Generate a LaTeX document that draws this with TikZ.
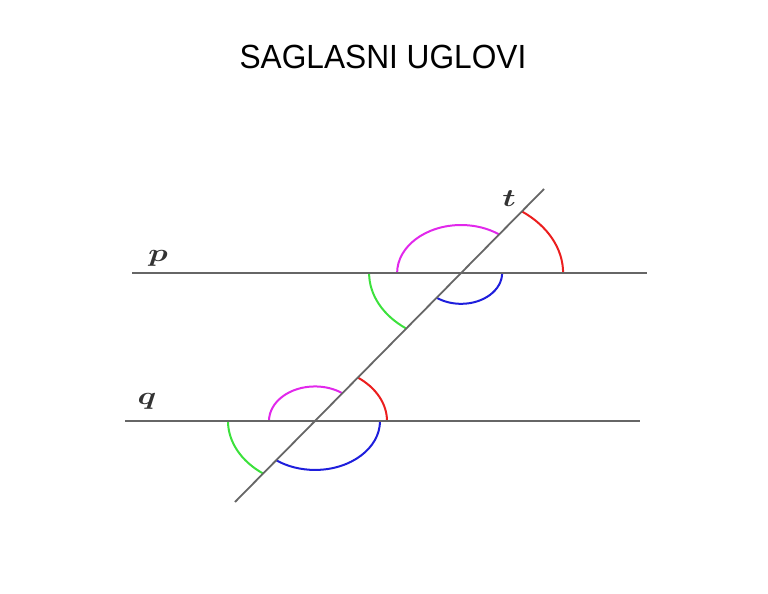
\documentclass[tikz,border=0pt]{standalone}
\usepackage{amsmath}
\usepackage{fontspec}
\setmainfont{Liberation Sans}
\newfontfamily\naslovfont[FakeStretch=0.945]{Liberation Sans}
\definecolor{zelena}{RGB}{60,225,60}
\definecolor{ljubicasta}{RGB}{225,40,235}
\definecolor{plava}{RGB}{30,30,220}
\definecolor{crvena}{RGB}{235,30,30}
\begin{document}
\begin{tikzpicture}[x=1pt, y=-1pt,
	prava/.style = {draw=black!60, line width=1.8pt},
	ugao/.style = {line width=2pt},
	oznaka/.style = {font=\fontsize{27}{27}\selectfont, text=black!80}]
	\useasboundingbox (0,0) rectangle (768,594);
	\node (naslov) at (383,57) {\naslovfont\fontsize{33.5}{33.5}\selectfont SAGLASNI UGLOVI};
	% prave p, q i transverzala t
	\coordinate (p1) at (132,273);
	\coordinate (p2) at (647,273);
	\coordinate (q1) at (125,421);
	\coordinate (q2) at (640,421);
	\coordinate (t1) at (235,502);
	\coordinate (t2) at (544,189);
	\coordinate (A) at (intersection of p1--p2 and t1--t2);
	\coordinate (B) at (intersection of q1--q2 and t1--t2);
	% uglovi kod p
	\draw[ugao, crvena] (A) ++(102,0) arc[start angle=0, end angle=-53.4, x radius=102, y radius=76.7];
	\draw[ugao, ljubicasta] (A) ++(-64,0) arc[start angle=180, end angle=306.6, x radius=64, y radius=48];
	\draw[ugao, zelena] (A) ++(-92,0) arc[start angle=180, end angle=126.6, x radius=92, y radius=69.2];
	\draw[ugao, plava] (A) ++(41,0) arc[start angle=0, end angle=126.6, x radius=41, y radius=30.8];
	% uglovi kod q
	\draw[ugao, crvena] (B) ++(72,0) arc[start angle=0, end angle=-53.4, x radius=72, y radius=54.1];
	\draw[ugao, ljubicasta] (B) ++(-46,0) arc[start angle=180, end angle=306.6, x radius=46, y radius=34.6];
	\draw[ugao, zelena] (B) ++(-87,0) arc[start angle=180, end angle=126.6, x radius=87, y radius=65.4];
	\draw[ugao, plava] (B) ++(65,0) arc[start angle=0, end angle=126.6, x radius=65, y radius=48.9];
	\draw[prava] (p1) -- (p2);
	\draw[prava] (q1) -- (q2);
	\draw[prava] (t1) -- (t2);
	\node[oznaka] (p) at (158,258) {\scalebox{1.3}[1]{$\boldsymbol{p}$}};
	\node[oznaka] (q) at (147,401) {\scalebox{1.3}[1]{$\boldsymbol{q}$}};
	\node[oznaka] (t) at (509,199) {\scalebox{1.3}[1]{$\boldsymbol{t}$}};
\end{tikzpicture}
\end{document}
